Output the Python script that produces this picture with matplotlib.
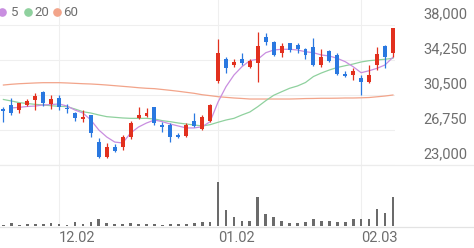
import matplotlib
matplotlib.use("Agg")
import matplotlib.pyplot as plt
from matplotlib.lines import Line2D
import numpy as np

plt.rcParams["font.family"] = ["Roboto", "DejaVu Sans"]

nan = np.nan

# daily candles, oldest first
opens = [29000, 29450, 28900, 29450, 29950, 30800, 29550, 30200, 29150, 28550,
         27950, 28350, 25450, 23850, 24950, 24950, 26000, 28050, 28250, 29200,
         27300, 27300, 26200, 26100, 27700, 26850, 27700, 32000, 34350, 33700,
         34350, 33500, 33950, 36700, 36200, 35000, 36050, 35850, 35450, 35650,
         33700, 35200, 34800, 32750, 32650, 32300, 31900, 33700, 35750, 35000]
highs = [29200, 30200, 29650, 30050, 30700, 30950, 30500, 30500, 29550, 28700,
         28900, 28350, 25900, 25350, 25250, 26200, 27700, 29200, 29100, 29250,
         27600, 27500, 26450, 27500, 28550, 28350, 29550, 36500, 34550, 34350,
         35000, 34350, 37250, 37150, 36300, 36050, 36050, 36050, 35550, 36600,
         35450, 35300, 35000, 33050, 33400, 32650, 33700, 35650, 35850, 37700]
lows = [27600, 28350, 28550, 29300, 28900, 29300, 29000, 28900, 28550, 27700,
        27600, 26000, 23750, 23700, 24400, 24600, 25800, 27950, 28150, 27300,
        26550, 25450, 25900, 26000, 27050, 26750, 27600, 31800, 32850, 33500,
        33700, 33400, 31900, 35850, 34700, 34550, 35100, 35000, 34350, 33600,
        33500, 34050, 32650, 32450, 32100, 30500, 31800, 33150, 33400, 34550]
closes = [28800, 28550, 29650, 29850, 30400, 29650, 30050, 29200, 29050, 28050,
          28150, 26450, 23850, 24950, 24500, 26000, 27500, 28350, 28550, 27500,
          27050, 26000, 26000, 27300, 27200, 28150, 29450, 35000, 33400, 34050,
          33950, 34150, 35750, 36200, 34800, 35750, 35300, 35450, 34800, 33700,
          34550, 34150, 32750, 32550, 33050, 31900, 32650, 34900, 34550, 37700]

ma5 = [nan, 29110, 29180, 29270, 29320, 29430, 29480, 29540, 29320, 28890,
       28570, 27820, 26750, 26000, 25460, 25360, 26430, 27070, 27500, 27820,
       27640, 27390, 27180, 26970, 26970, 27100, 27640, 29750, 31390, 32640,
       33530, 34180, 34330, 35030, 35320, 35400, 35400, 35320, 35140, 35030,
       34790, 34680, 34430, 34070, 33530, 32890, 33100, 33360, 33720, 34540]
ma20 = [30020, 29860, 29680, 29590, 29500, 29430, 29350, 29290, 29250, 29000,
        28710, 28570, 28360, 28180, 28110, 28040, 28000, 28000, 28000, 27930,
        27750, 27640, 27500, 27390, 27290, 27180, 27320, 27580, 27820, 28000,
        28360, 28680, 29250, 29890, 30470, 30850, 31220, 31470, 31840, 32480,
        32860, 33180, 33450, 33640, 33820, 34040, 34180, 34250, 34330, 34430]
ma60 = [31570, 31650, 31710, 31750, 31790, 31820, 31820, 31820, 31790, 31750,
        31710, 31680, 31630, 31570, 31500, 31430, 31360, 31280, 31220, 31180,
        31090, 31000, 30900, 30790, 30680, 30530, 30430, 30320, 30250, 30180,
        30130, 30070, 30070, 30070, 30070, 30070, 30070, 30090, 30120, 30130,
        30150, 30150, 30160, 30180, 30180, 30200, 30230, 30310, 30390, 30500]

# volume, thousand shares
volume = [20, 66, 20, 34, 40, 40, 54, 34, 20, 74,
          40, 80, 134, 54, 40, 40, 54, 40, 40, 34,
          14, 34, 40, 40, 54, 74, 74, 886, 320, 186,
          106, 106, 586, 240, 174, 106, 66, 66, 86, 140,
          106, 106, 86, 86, 140, 140, 140, 340, 266, 586]

date_labels = ["12.02", "01.02", "02.03"]
date_pos = [7, 27, 45]
price_ticks = [23000, 26750, 30500, 34250, 38000]

RED = "#e2301e"
BLUE = "#2a78e0"
GRID = "#efefef"
TEXT = "#6e6e6e"

W, H = 474, 248
fig = plt.figure(figsize=(W / 100, H / 100), dpi=100)

ax = fig.add_axes([0, (H - 165) / H, 395 / W, 165 / H])
axv = fig.add_axes([0, (H - 226) / H, 395 / W, 61 / H])

x = np.arange(len(opens))
o = np.array(opens); c = np.array(closes)
up = c >= o
colors = np.where(up, RED, BLUE)

for a in (ax, axv):
    a.set_xlim(-0.43, 49.26)
    for s in a.spines.values():
        s.set_visible(False)
    a.set_xticks([]); a.set_yticks([])
    for p in date_pos:
        a.axvline(p, color=GRID, lw=0.8, zorder=0)

ax.set_ylim(23000, 40680)
for t in price_ticks:
    ax.axhline(t, xmax=1, color=GRID, lw=0.8, zorder=0)

# moving averages
ax.plot(x, ma60, color="#f2a48a", lw=0.9, zorder=1)
ax.plot(x, ma20, color="#8fd19e", lw=0.9, zorder=1)
ax.plot(x, ma5, color="#c98ee0", lw=0.9, zorder=1)

# candles
ax.vlines(x, lows, highs, colors=colors, lw=0.9, zorder=2)
body_h = np.maximum(np.abs(c - o), 80)
ax.bar(x, body_h, bottom=np.minimum(o, c), width=0.5, color=colors, zorder=3)

# volume
axv.set_ylim(0, 1220)
axv.bar(x, volume, width=0.34, color="#6b6b6b", zorder=2)

# full-width separators
fig.add_artist(Line2D([0, 1], [(H - 165) / H] * 2, color="#ececec", lw=0.9))
fig.add_artist(Line2D([0, 1], [(H - 226.5) / H] * 2, color="#e3e3e3", lw=0.9))

# right price labels
for t in price_ticks:
    ax.annotate(f"{t:,}", xy=(1, t), xycoords=("axes fraction", "data"),
                xytext=(20.2, 7.6), textcoords="offset points",
                ha="left", va="center", fontsize=10.5, color=TEXT,
                annotation_clip=False)

# date labels
for lab, p in zip(date_labels, date_pos):
    axv.annotate(lab, xy=(p, 0), xycoords=("data", "axes fraction"),
                 xytext=(0, -8.6), textcoords="offset points",
                 ha="left", va="center", fontsize=10.5, color=TEXT,
                 annotation_clip=False)

# legend
leg_y = 1 - 12 / 165
for cx, tx, col, lab in [(2, 11, "#c98ee0", "5"), (27.5, 34, "#8fd19e", "20"),
                         (57, 63, "#f2a48a", "60")]:
    ax.plot([cx / 395], [leg_y], "o", ms=5.2, color=col, transform=ax.transAxes,
            clip_on=False)
    ax.text(tx / 395, leg_y, lab, transform=ax.transAxes, ha="left",
            va="center", fontsize=9.5, color=TEXT)

fig.savefig("out.png", dpi=100)
